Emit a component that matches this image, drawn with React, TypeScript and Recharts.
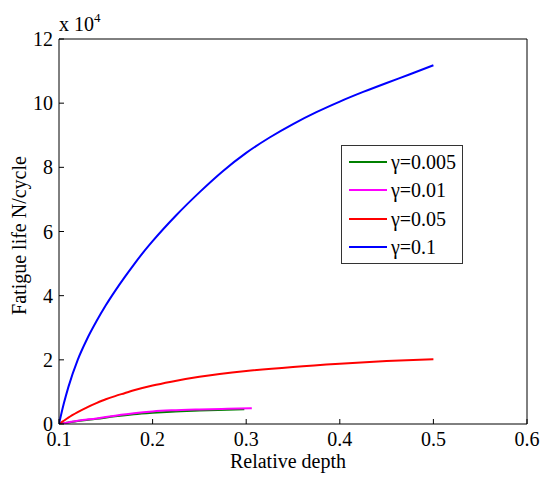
import { LineChart, Line, XAxis, YAxis, Legend, Label } from "recharts";

// relative depth (x) and fatigue life N in cycles (y)
const greenDepth = [0.1, 0.11, 0.12, 0.14, 0.16, 0.18, 0.2, 0.22, 0.25, 0.27, 0.298];
const greenLife = [0, 450, 900, 1600, 2400, 3050, 3500, 3850, 4200, 4400, 4600];

const magentaDepth = [0.1, 0.11, 0.12, 0.14, 0.16, 0.18, 0.2, 0.22, 0.25, 0.28, 0.306];
const magentaLife = [0, 500, 1000, 1750, 2600, 3350, 3900, 4250, 4550, 4750, 4900];

const redDepth = [0.1, 0.105, 0.11, 0.12, 0.13, 0.14, 0.15, 0.16, 0.17, 0.18, 0.2, 0.22, 0.25, 0.3, 0.35, 0.4, 0.45, 0.5];
const redLife = [0, 1000, 2000, 3700, 5200, 6500, 7700, 8700, 9600, 10500, 12000, 13200, 14700, 16500, 17800, 18800, 19600, 20200];

const blueDepth = [
  0.1, 0.105, 0.11, 0.12, 0.13, 0.14, 0.15, 0.16, 0.17, 0.18, 0.19, 0.2, 0.225, 0.25, 0.275, 0.3, 0.325, 0.35, 0.375,
  0.4, 0.425, 0.45, 0.475, 0.5,
];
const blueLife = [
  0, 6200, 11500, 20000, 26500, 32000, 37000, 41500, 45700, 49700, 53500, 57000, 65000, 72200, 78800, 84500, 89300,
  93500, 97200, 100500, 103500, 106300, 109000, 111800,
];

const xTicks = [0.1, 0.2, 0.3, 0.4, 0.5, 0.6];
const yTicks = [0, 20000, 40000, 60000, 80000, 100000, 120000];

const SERIES = [
  { name: "γ=0.005", color: "#008000", depth: greenDepth, life: greenLife },
  { name: "γ=0.01", color: "#ff00ff", depth: magentaDepth, life: magentaLife },
  { name: "γ=0.05", color: "#ff0000", depth: redDepth, life: redLife },
  { name: "γ=0.1", color: "#0000ff", depth: blueDepth, life: blueLife },
];

const FONT = "'Liberation Serif', 'DejaVu Serif', 'Times New Roman', serif";
const tickStyle = { fontSize: 20, fill: "#000", fontFamily: FONT };
const axisStroke = { stroke: "#000", strokeWidth: 1 };

const toPoints = (depth: number[], life: number[]) => depth.map((x, i) => ({ x, y: life[i] }));

function LegendBox({ payload }: any) {
  return (
    <div
      style={{
        border: "1px solid #333",
        background: "#fff",
        width: 122,
        paddingTop: 2,
        paddingBottom: 2,
        boxSizing: "border-box",
        fontFamily: FONT,
        fontSize: 20,
        color: "#000",
      }}
    >
      {(payload || []).map((p: any) => (
        <div key={p.value} style={{ display: "flex", alignItems: "center", height: 28.3 }}>
          <span style={{ display: "inline-block", width: 38, height: 2, marginLeft: 7, background: p.color }} />
          <span style={{ marginLeft: 4, lineHeight: "20px" }}>{p.value}</span>
        </div>
      ))}
    </div>
  );
}

export default function App() {
  return (
    <div style={{ position: "absolute", left: 0, top: 0, width: 550, height: 482, background: "#fff", fontFamily: FONT }}>
      <LineChart width={550} height={482} margin={{ top: 38, right: 22, bottom: 28, left: 0 }} style={{ fontFamily: FONT }}>
        <XAxis
          type="number"
          dataKey="x"
          domain={[0.1, 0.6]}
          ticks={xTicks}
          tickFormatter={(v: number) => v.toFixed(1)}
          tick={tickStyle}
          tickSize={-5}
          tickMargin={13}
          tickLine={axisStroke}
          axisLine={axisStroke}
          height={30}
          allowDataOverflow
        >
          <Label
            content={({ viewBox }: any) => (
              <text
                x={viewBox.x + viewBox.width / 2 - 5}
                y={viewBox.y + 44}
                textAnchor="middle"
                style={{ fontFamily: FONT, fontSize: 20 }}
                fill="#000"
              >
                Relative depth
              </text>
            )}
          />
        </XAxis>
        <XAxis
          xAxisId="top"
          orientation="top"
          type="number"
          dataKey="x"
          domain={[0.1, 0.6]}
          ticks={xTicks}
          tick={false}
          tickSize={-5}
          tickLine={axisStroke}
          axisLine={axisStroke}
          height={1}
          allowDataOverflow
        />
        <YAxis
          type="number"
          domain={[0, 120000]}
          ticks={yTicks}
          tickFormatter={(v: number) => String(v / 10000)}
          tick={tickStyle}
          tickSize={-5}
          tickMargin={11}
          tickLine={axisStroke}
          axisLine={axisStroke}
          width={59}
          allowDataOverflow
        >
          <Label
            content={({ viewBox }: any) => {
              const cx = 26;
              const cy = viewBox.y + viewBox.height / 2 + 4;
              return (
                <g>
                  <text
                    x={cx}
                    y={cy}
                    transform={`rotate(-90, ${cx}, ${cy})`}
                    textAnchor="middle"
                    style={{ fontFamily: FONT, fontSize: 20 }}
                    fill="#000"
                  >
                    Fatigue life N/cycle
                  </text>
                  <text
                    x={viewBox.x + viewBox.width}
                    y={viewBox.y - 8}
                    style={{ fontFamily: FONT, fontSize: 20 }}
                    fill="#000"
                  >
                    x 10
                    <tspan dy={-9} style={{ fontSize: 13 }}>
                      4
                    </tspan>
                  </text>
                </g>
              );
            }}
          />
        </YAxis>
        <YAxis
          yAxisId="right"
          orientation="right"
          type="number"
          domain={[0, 120000]}
          ticks={yTicks}
          tick={false}
          tickSize={-5}
          tickLine={axisStroke}
          axisLine={axisStroke}
          width={1}
          allowDataOverflow
        />
        <Legend
          layout="vertical"
          align="center"
          verticalAlign="middle"
          content={<LegendBox />}
          wrapperStyle={{ left: 341, top: 145, width: 122 }}
        />
        {SERIES.map((s) => (
          <Line
            key={s.name}
            name={s.name}
            data={toPoints(s.depth, s.life)}
            dataKey="y"
            type="monotone"
            stroke={s.color}
            strokeWidth={2}
            dot={false}
            activeDot={false}
            isAnimationActive={false}
          />
        ))}
      </LineChart>
    </div>
  );
}
